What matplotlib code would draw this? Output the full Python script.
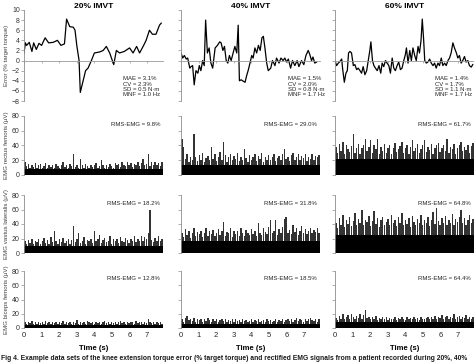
import numpy as np
import matplotlib
matplotlib.use("Agg")
import matplotlib.pyplot as plt

plt.rcParams['font.family'] = ['Liberation Sans', 'DejaVu Sans']

# ---- data ----
titles = ["20% IMVT", "40% IMVT", "60% IMVT"]

err20_t = [0.0, 0.08, 0.15, 0.3, 0.45, 0.55, 0.7, 0.85, 1.0, 1.2, 1.4, 1.66, 1.9, 2.1, 2.3,
           2.42, 2.6, 2.8, 2.9, 3.0, 3.13, 3.2, 3.36, 3.5, 3.64, 3.83, 4.0, 4.3, 4.5, 4.68,
           4.87, 5.1, 5.25, 5.43, 5.7, 6.0, 6.2, 6.4, 6.57, 6.8, 6.94, 7.13, 7.3, 7.5, 7.7, 7.8]
err20_v = [1.5, 3.5, 3.0, 3.6, 1.8, 3.5, 2.2, 3.4, 3.0, 4.5, 3.5, 3.6, 4.0, 3.0, 3.3,
           8.2, 6.7, 6.6, 6.0, 3.0, 0.0, -6.3, -4.0, -2.0, -1.5, 0.0, 1.5, 1.7, 2.0, 2.8,
           1.5, -0.8, 2.0, 1.5, 1.8, 2.5, 1.5, 2.8, 1.5, 3.0, 4.0, 6.0, 5.2, 5.2, 7.0, 7.4]

err40_t = [0.0, 0.1, 0.19, 0.3, 0.38, 0.5, 0.57, 0.66, 0.75, 0.85, 0.96, 1.04, 1.13, 1.23, 1.32,
           1.4, 1.5, 1.6, 1.7, 1.8, 1.94, 2.07, 2.2, 2.28, 2.38, 2.47, 2.57, 2.66, 2.75, 2.85,
           2.94, 3.06, 3.17, 3.25, 3.32, 3.42, 3.5, 3.64, 3.73, 3.83, 3.92, 4.02, 4.1, 4.2, 4.3,
           4.4, 4.5, 4.6, 4.68, 4.77, 4.87, 4.96, 5.1, 5.2, 5.34, 5.43, 5.57, 5.68, 5.8, 5.9,
           6.0, 6.1, 6.23, 6.34, 6.47, 6.6, 6.7, 6.85, 6.98, 7.1, 7.23, 7.32, 7.42, 7.5, 7.6, 7.7]
err40_v = [1.5, 0.5, 1.0, 0.3, 0.5, -1.5, -1.2, -1.0, -4.8, -2.0, -2.5, -1.0, -2.0, 0.0, -1.0,
           8.0, 1.5, 2.5, -0.5, -1.5, 2.5, 3.0, 3.7, 3.5, 2.0, 2.8, 0.0, -0.5, 1.0, 0.0,
           1.2, 2.8, 1.5, 7.0, -4.0, -3.8, -4.0, -4.3, -3.0, -1.8, -0.5, 1.0, 0.5, 2.5, 1.5,
           3.0, 2.0, 4.5, 4.8, 2.5, -0.5, -2.0, -1.5, 0.0, -1.0, 0.5, -0.5, 0.5, 0.0, 0.5,
           -0.3, 0.3, -1.5, 0.0, -1.0, 0.0, -1.2, 0.0, -0.8, 1.0, 2.0, 1.2, 0.0, 0.7, -0.5, -0.3]

err60_t = [0.0, 0.09, 0.19, 0.28, 0.38, 0.43, 0.53, 0.62, 0.7, 0.77, 0.85, 0.94, 1.04, 1.13, 1.23,
           1.32, 1.42, 1.51, 1.6, 1.7, 1.8, 1.89, 1.98, 2.04, 2.13, 2.21, 2.3, 2.4, 2.5, 2.6,
           2.68, 2.77, 2.87, 2.96, 3.06, 3.15, 3.25, 3.34, 3.43, 3.53, 3.62, 3.72, 3.81, 3.91, 4.0,
           4.06, 4.15, 4.25, 4.34, 4.43, 4.53, 4.62, 4.72, 4.8, 4.89, 4.96, 5.04, 5.1, 5.19, 5.28,
           5.38, 5.47, 5.57, 5.66, 5.75, 5.85, 5.94, 6.04, 6.13, 6.23, 6.32, 6.42, 6.51, 6.6, 6.7,
           6.79, 6.9, 6.98, 7.07, 7.17, 7.26, 7.36, 7.45, 7.55, 7.64, 7.74, 7.83]
err60_v = [0.0, -1.0, -0.5, -0.2, 0.3, -1.5, -4.3, -2.5, -2.0, 1.5, 1.8, 1.5, -1.0, -0.8, -1.8,
           -1.5, -2.0, -2.5, -1.2, -2.8, -2.0, 0.0, 2.0, 3.7, 0.0, -1.0, -1.5, -2.0, -1.0, -2.5,
           -0.5, -1.2, 0.0, -0.5, -1.0, -2.5, 0.5, -1.5, -2.0, -1.0, -0.3, -1.8, -1.5, 0.0, 1.2,
           2.5, -0.5, 2.0, 0.0, 2.5, 1.0, 0.0, 2.8, 1.5, 4.0, 8.2, 4.0, 0.0, -0.5, -0.3,
           0.3, -0.5, -1.0, -0.5, -1.5, -0.5, -1.0, 0.5, -1.0, -0.5, -1.0, 0.0, 0.5, 1.5, 3.5,
           2.5, 1.5, 0.5, 1.0, -0.5, 0.0, 0.8, -0.3, 0.0, -1.0, -1.3, -0.8]

stats = [["MAE = 3.1%", "CV = 2.3%", "SD = 0.5 N\u00b7m", "MNF = 1.0 Hz"],
         ["MAE = 1.5%", "CV = 2.0%", "SD = 0.8 N\u00b7m", "MNF = 1.7 Hz"],
         ["MAE = 1.4%", "CV = 1.7%", "SD = 1.1 N\u00b7m", "MNF = 1.7 Hz"]]

rf20 = [17, 12, 15, 9, 14, 11, 16, 10, 13, 15, 9, 12, 16, 10, 14, 11, 13, 9, 15, 12,
        10, 14, 17, 11, 13, 9, 15, 12, 28, 11, 14, 10, 22, 13, 9, 15, 12, 10, 14, 11,
        13, 16, 10, 12, 21, 14, 9, 13, 11, 15, 12, 10, 16, 13, 15, 11, 17, 14, 12, 18,
        13, 16, 11, 15, 14, 17, 12, 16, 22, 13, 15, 29, 12, 17, 14, 18, 13, 16, 12, 17]
rf40 = [49, 38, 22, 28, 18, 25, 20, 56, 24, 19, 27, 21, 30, 17, 23, 26, 20, 38, 22, 28,
        19, 25, 31, 21, 45, 27, 18, 24, 29, 20, 26, 22, 30, 19, 25, 21, 35, 23, 18, 27,
        20, 24, 29, 19, 26, 22, 30, 18, 25, 21, 27, 20, 24, 28, 19, 23, 26, 21, 29, 35,
        22, 25, 19, 27, 30, 21, 24, 28, 20, 26, 23, 29, 19, 25, 22, 28, 21, 26, 24, 27]
rf60 = [38, 30, 42, 33, 45, 28, 40, 35, 31, 39, 56, 30, 37, 42, 29, 36, 40, 49, 32, 38,
        47, 30, 41, 35, 49, 29, 38, 33, 42, 30, 36, 40, 28, 37, 43, 31, 35, 39, 45, 30,
        36, 41, 29, 38, 47, 32, 37, 42, 30, 35, 40, 47, 31, 38, 34, 42, 29, 37, 40, 44,
        31, 36, 41, 33, 49, 30, 38, 35, 42, 29, 37, 40, 45, 32, 38, 34, 41, 30, 39, 44]
vl20 = [16, 12, 18, 14, 20, 13, 17, 15, 19, 12, 16, 21, 14, 18, 13, 22, 15, 30, 17, 13,
        19, 15, 21, 14, 17, 20, 13, 18, 37, 15, 19, 27, 14, 17, 22, 13, 18, 16, 20, 14,
        30, 16, 19, 25, 14, 18, 21, 15, 17, 23, 13, 19, 16, 20, 14, 22, 17, 15, 21, 18,
        14, 20, 16, 23, 15, 19, 17, 24, 16, 22, 19, 28, 60, 18, 15, 21, 17, 23, 16, 19]
vl40 = [28, 22, 33, 25, 30, 21, 27, 34, 23, 29, 26, 31, 22, 28, 35, 24, 30, 26, 32, 23,
        28, 33, 25, 30, 43, 24, 29, 27, 34, 22, 31, 26, 30, 24, 35, 27, 23, 32, 28, 25,
        33, 26, 30, 24, 41, 28, 25, 34, 29, 26, 36, 46, 27, 31, 45, 25, 33, 28, 36, 47,
        49, 27, 32, 26, 38, 29, 34, 25, 31, 37, 28, 33, 26, 30, 35, 27, 32, 29, 34, 28]
vl60 = [42, 35, 48, 38, 52, 36, 45, 40, 50, 37, 44, 55, 39, 47, 41, 60, 38, 46, 43, 51,
        37, 44, 58, 40, 48, 36, 45, 50, 39, 43, 47, 38, 52, 41, 46, 37, 49, 42, 55, 39,
        45, 40, 48, 36, 51, 43, 38, 47, 41, 53, 39, 46, 42, 50, 37, 45, 56, 40, 62, 44,
        38, 48, 42, 51, 39, 46, 41, 54, 38, 47, 43, 50, 59, 42, 48, 39, 46, 52, 41, 47]
bf20 = [9, 6, 8, 7, 10, 5, 8, 6, 9, 7, 8, 6, 10, 7, 9, 6, 8, 7, 9, 6,
        8, 7, 10, 6, 9, 7, 8, 6, 9, 7, 11, 6, 8, 7, 9, 6, 10, 8, 7, 9,
        6, 8, 7, 9, 6, 8, 10, 7, 9, 6, 8, 7, 9, 6, 8, 10, 7, 9, 6, 8,
        7, 9, 8, 6, 10, 7, 8, 9, 6, 8, 7, 13, 9, 7, 8, 6, 9, 7, 8, 6]
bf40 = [12, 9, 14, 17, 11, 13, 10, 14, 9, 12, 11, 13, 9, 12, 10, 14, 11, 9, 13, 10,
        12, 9, 11, 13, 10, 12, 9, 11, 10, 13, 9, 12, 10, 11, 9, 12, 10, 11, 9, 10,
        12, 9, 11, 10, 12, 9, 10, 11, 9, 12, 10, 11, 9, 10, 12, 9, 11, 10, 12, 9,
        11, 13, 10, 12, 9, 11, 14, 10, 12, 11, 9, 13, 10, 12, 14, 11, 10, 13, 9, 12]
bf60 = [14, 11, 17, 13, 19, 12, 16, 18, 13, 20, 15, 12, 17, 14, 19, 13, 18, 25, 14, 16,
        12, 15, 13, 17, 11, 14, 12, 16, 13, 15, 11, 14, 12, 13, 15, 11, 14, 12, 16, 13,
        11, 15, 12, 14, 13, 16, 12, 14, 11, 15, 13, 12, 14, 16, 12, 15, 13, 17, 12, 16,
        14, 18, 13, 15, 17, 12, 16, 14, 19, 13, 15, 17, 12, 16, 14, 18, 13, 15, 12, 16]

emg_rows = [[rf20, rf40, rf60], [vl20, vl40, vl60], [bf20, bf40, bf60]]
emg_body = [[8, 13, 22], [10, 16, 25], [4, 6, 8]]
rms = [["9.8%", "29.0%", "61.7%"], ["18.2%", "31.8%", "64.8%"], ["12.8%", "18.5%", "64.4%"]]
ylabels = ["Error (% target torque)", "EMG rectus femoris (\u03bcV)",
           "EMG vastus lateralis (\u03bcV)", "EMG biceps femoris (\u03bcV)"]
caption = ("Fig 4. Example data sets of the knee extension torque error (% target torque) and "
           "rectified EMG signals from a patient recorded during 20%, 40%")

errs = [(err20_t, err20_v), (err40_t, err40_v), (err60_t, err60_v)]

# ---- layout (pixels) ----
W, H = 474, 362
col_left = [24, 181, 335]
col_w = 139
rows = [(10, 101), (116, 175), (195, 253), (271, 328)]

fig = plt.figure(figsize=(W / 100, H / 100), dpi=100)

def make_ax(x0, ytop, ybot):
    return fig.add_axes([x0 / W, 1 - ybot / H, col_w / W, (ybot - ytop) / H])

def style(ax, labels_y):
    for s in ['top', 'right']:
        ax.spines[s].set_visible(False)
    ax.spines['left'].set_color('0.55')
    ax.spines['left'].set_linewidth(0.6)
    ax.tick_params(axis='y', length=2, width=0.5, color='0.55', labelsize=5, pad=1,
                   labelcolor='0.2', labelleft=labels_y)
    ax.set_xlim(0, 7.9)

tsec = np.linspace(0.05, 7.85, 80)

for c in range(3):
    # error panel
    ax = make_ax(col_left[c], *rows[0])
    style(ax, c == 0)
    ax.set_ylim(-8, 10)
    ax.set_yticks(range(-8, 11, 2))
    ax.spines['bottom'].set_position(('data', 0))
    ax.spines['bottom'].set_color('0.6')
    ax.spines['bottom'].set_linewidth(0.6)
    ax.set_xticks(range(0, 8))
    ax.tick_params(axis='x', length=1.5, width=0.5, color='0.6', labelbottom=False)
    ax.plot(errs[c][0], errs[c][1], color='k', lw=0.9)
    ax.set_title(titles[c], fontsize=6, fontweight='bold', pad=1.5)
    sx = [0.71, 0.77, 0.72][c]
    ax.text(sx, 0.27, "\n".join(stats[c]), transform=ax.transAxes, fontsize=4.3,
            va='top', ha='left', linespacing=1.05, color='0.15')

    # EMG panels
    for r in range(3):
        ax = make_ax(col_left[c], *rows[r + 1])
        style(ax, c == 0)
        ax.set_ylim(0, 80)
        ax.set_yticks([0, 20, 40, 60, 80])
        ax.spines['bottom'].set_visible(False)
        h = np.array(emg_rows[r][c])
        ax.bar(tsec, h, width=0.08, color='0.2', linewidth=0)
        ax.bar(tsec, np.minimum(h, emg_body[r][c]), width=0.1, color='k', linewidth=0)
        ax.text(0.98, 0.86, "RMS-EMG = " + rms[r][c], transform=ax.transAxes,
                fontsize=4.3, ha='right', va='center', color='0.15')
        ax.set_xticks(range(0, 8))
        if r == 2:
            ax.tick_params(axis='x', length=0, labelsize=5.5, pad=3, labelcolor='0.15')
            ax.set_xlabel("Time (s)", fontsize=5.5, fontweight='bold', labelpad=4)
        else:
            ax.tick_params(axis='x', length=0, labelbottom=False)

for i, lab in enumerate(ylabels):
    yc = (rows[i][0] + rows[i][1]) / 2
    fig.text(7 / W, 1 - yc / H, lab, rotation=90, fontsize=4.4, ha='center', va='center',
             color='0.25')

fig.text(1 / W, 1 - 358 / H, caption, fontsize=4.85, fontweight='bold', ha='left',
         va='center', color='0.1')

fig.savefig("out.png", dpi=100)
